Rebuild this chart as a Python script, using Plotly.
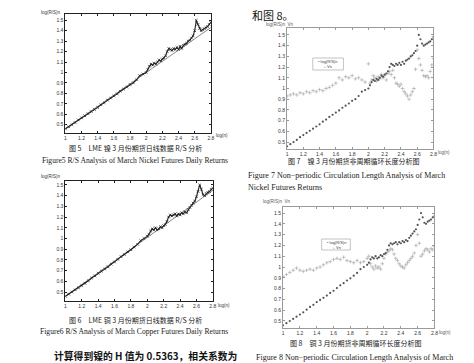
import plotly.graph_objects as go

W, H = 474, 363

# ---------------- data ----------------
log_n = [1.00, 1.04, 1.08, 1.12, 1.16, 1.20, 1.24, 1.28, 1.32, 1.36, 1.40, 1.44, 1.48,
         1.52, 1.56, 1.60, 1.64, 1.68, 1.72, 1.76, 1.80, 1.84, 1.88, 1.92, 1.96, 2.00,
         2.02, 2.04, 2.06, 2.08, 2.10, 2.12, 2.14, 2.16, 2.18, 2.20, 2.22, 2.24, 2.26,
         2.28, 2.30, 2.32, 2.34, 2.36, 2.38, 2.40, 2.42, 2.44, 2.46, 2.48, 2.50, 2.52,
         2.54, 2.56, 2.58, 2.60, 2.62, 2.64, 2.66, 2.68, 2.70, 2.72, 2.74, 2.76, 2.78, 2.80]

nickel_rs = [0.46, 0.48, 0.50, 0.52, 0.545, 0.565, 0.585, 0.605, 0.625, 0.645, 0.665, 0.69, 0.71,
             0.735, 0.755, 0.775, 0.795, 0.82, 0.84, 0.86, 0.885, 0.90, 0.93, 0.97, 0.985, 1.00,
             1.03, 1.06, 1.08, 1.07, 1.09, 1.08, 1.10, 1.12, 1.11, 1.13, 1.14, 1.16, 1.20,
             1.23, 1.22, 1.21, 1.23, 1.22, 1.24, 1.22, 1.25, 1.23, 1.26, 1.27, 1.28, 1.30,
             1.31, 1.33, 1.35, 1.40, 1.50, 1.46, 1.42, 1.40, 1.41, 1.42, 1.43, 1.44, 1.46, 1.48]

nickel_vn = [0.93, 0.94, 0.95, 0.94, 0.96, 0.95, 0.97, 0.96, 0.98, 0.97, 0.99, 0.98, 1.00,
             1.01, 1.03, 1.05, 1.10, 1.08, 1.11, 1.10, 1.12, 1.09, 1.10, 1.08, 1.06, 1.23,
             1.05, 1.08, 1.12, 1.10, 1.07, 1.11, 1.09, 1.13, 1.10, 1.12, 1.08, 1.14, 1.16,
             1.13, 1.17, 1.10, 1.05, 1.04, 1.02, 1.04, 1.00, 0.97, 0.95, 0.93, 0.90, 0.94,
             0.97, 1.00, 1.18, 1.36, 1.28, 1.22, 1.17, 1.12, 1.11, 1.12, 1.10, 1.16, 1.22, 1.28]

copper_rs = [0.46, 0.48, 0.50, 0.52, 0.54, 0.56, 0.58, 0.605, 0.63, 0.65, 0.675, 0.695, 0.715,
             0.735, 0.76, 0.78, 0.805, 0.83, 0.85, 0.875, 0.895, 0.92, 0.945, 0.98, 1.00, 1.02,
             1.04, 1.07, 1.09, 1.08, 1.10, 1.08, 1.09, 1.11, 1.10, 1.12, 1.13, 1.16, 1.20,
             1.22, 1.21, 1.22, 1.23, 1.21, 1.23, 1.22, 1.24, 1.23, 1.25, 1.24, 1.27, 1.29,
             1.31, 1.33, 1.35, 1.39, 1.44, 1.50, 1.46, 1.41, 1.40, 1.42, 1.43, 1.44, 1.46, 1.47]

copper_vn = [0.91, 0.93, 0.95, 0.97, 0.99, 0.97, 0.96, 0.97, 0.98, 0.97, 0.99, 1.00, 1.02,
             1.04, 1.05, 1.07, 1.08, 1.07, 1.09, 1.06, 1.05, 1.04, 1.06, 1.04, 1.05, 1.08,
             1.10, 1.03, 1.00, 0.98, 1.01, 0.99, 1.00, 0.98, 1.03, 1.08, 1.12, 1.14, 1.15,
             1.17, 1.16, 1.12, 1.08, 1.06, 1.03, 1.01, 1.00, 0.99, 1.02, 1.04, 1.06, 1.08,
             1.10, 1.13, 1.20, 1.30, 1.22, 1.10, 1.12, 1.15, 1.17, 1.16, 1.14, 1.17, 1.16, 1.19]

fit_x = [1.00, 2.80]
nickel_fit = [0.46, 1.43]
copper_fit = [0.46, 1.45]

x_ticks = [1, 1.2, 1.4, 1.6, 1.8, 2, 2.2, 2.4, 2.6, 2.8]
x_tick_text = ["1", "1.2", "1.4", "1.6", "1.8", "2", "2.2", "2.4", "2.6", "2.8"]
y_ticks = [0.5, 0.6, 0.7, 0.8, 0.9, 1.0, 1.1, 1.2, 1.3, 1.4, 1.5]
y_tick_text = ["0.5", "0.6", "0.7", "0.8", "0.9", "1", "1.1", "1.2", "1.3", "1.4", "1.5"]

# ---------------- layout helpers ----------------
def px_x(px):
    return px / W

def px_y(py):
    return 1 - py / H

def dom_x(a, b):
    return [px_x(a), px_x(b)]

def dom_y(top, bottom):
    return [px_y(bottom), px_y(top)]

TICKFONT = dict(family="Liberation Sans", size=5, color="#333333")

def xaxis(domain, anchor, rng, color):
    return dict(domain=domain, anchor=anchor, range=rng, tickvals=x_ticks, ticktext=x_tick_text,
                ticks="inside", ticklen=2, tickcolor=color, tickwidth=0.8, showline=True,
                linecolor=color, linewidth=1, mirror="ticks", showgrid=False, zeroline=False,
                tickfont=TICKFONT, fixedrange=True)

def yaxis(domain, anchor, rng, color):
    return dict(domain=domain, anchor=anchor, range=rng, tickvals=y_ticks, ticktext=y_tick_text,
                ticks="inside", ticklen=2, tickcolor=color, tickwidth=0.8, showline=True,
                linecolor=color, linewidth=1, mirror="ticks", showgrid=False, zeroline=False,
                tickfont=TICKFONT, fixedrange=True)

fig = go.Figure()

# Chart 1: nickel R/S
fig.add_trace(go.Scatter(x=fit_x, y=nickel_fit, mode="lines", line=dict(color="#555555", width=0.7),
                         xaxis="x", yaxis="y", showlegend=False))
fig.add_trace(go.Scatter(x=log_n, y=nickel_rs, mode="lines+markers",
                         line=dict(color="#222222", width=1.1),
                         marker=dict(symbol="x-thin", size=2.6, line=dict(color="#222222", width=0.7)),
                         xaxis="x", yaxis="y", showlegend=False))

# Chart 2: nickel R/S and Vn
fig.add_trace(go.Scatter(x=log_n, y=nickel_vn, mode="markers",
                         marker=dict(symbol="cross-thin", size=2.6, line=dict(color="#aaaaaa", width=0.7)),
                         xaxis="x2", yaxis="y2", showlegend=False))
fig.add_trace(go.Scatter(x=log_n, y=nickel_rs, mode="markers",
                         marker=dict(symbol="circle", size=2.2, color="#555555"),
                         xaxis="x2", yaxis="y2", showlegend=False))

# Chart 3: copper R/S
fig.add_trace(go.Scatter(x=fit_x, y=copper_fit, mode="lines", line=dict(color="#555555", width=0.7),
                         xaxis="x3", yaxis="y3", showlegend=False))
fig.add_trace(go.Scatter(x=log_n, y=copper_rs, mode="lines+markers",
                         line=dict(color="#222222", width=1.1),
                         marker=dict(symbol="x-thin", size=2.6, line=dict(color="#222222", width=0.7)),
                         xaxis="x3", yaxis="y3", showlegend=False))

# Chart 4: copper R/S and Vn
fig.add_trace(go.Scatter(x=log_n, y=copper_vn, mode="markers",
                         marker=dict(symbol="cross-thin", size=2.6, line=dict(color="#aaaaaa", width=0.7)),
                         xaxis="x4", yaxis="y4", showlegend=False))
fig.add_trace(go.Scatter(x=log_n, y=copper_rs, mode="markers",
                         marker=dict(symbol="circle", size=2.2, color="#555555"),
                         xaxis="x4", yaxis="y4", showlegend=False))

dark, light = "#222222", "#9a9a9a"

layout_axes = dict(
    xaxis=xaxis(dom_x(57, 204), "y", [1.0, 2.8], dark),
    yaxis=yaxis(dom_y(6, 125), "x", [0.42, 1.56], dark),
    xaxis2=xaxis(dom_x(281, 429), "y2", [1.0, 2.8], light),
    yaxis2=yaxis(dom_y(20, 141), "x2", [0.435, 1.565], light),
    xaxis3=xaxis(dom_x(57, 206), "y3", [1.0, 2.8], dark),
    yaxis3=yaxis(dom_y(173, 293), "x3", [0.416, 1.537], dark),
    xaxis4=xaxis(dom_x(277, 430), "y4", [1.0, 2.8], light),
    yaxis4=yaxis(dom_y(199, 320), "x4", [0.435, 1.556], light),
)

SERIF = "Liberation Serif"
CJK = "Noto Sans CJK SC"

def ann(text, px, py, size, family, xanchor="center", color="#222222"):
    return dict(text=text, x=px_x(px), y=px_y(py), xref="paper", yref="paper",
                xanchor=xanchor, yanchor="middle", showarrow=False,
                font=dict(family=family, size=size, color=color))

annotations = [
    # axis titles
    ann("log(R/S)n", 42, 4, 4.5, "Liberation Sans", color="#333333"),
    ann("log(n)", 207, 127, 4.5, "Liberation Sans", "left", "#333333"),
    ann("log(R/S)n  Vn", 274, 16, 4.5, "Liberation Sans", color="#555555"),
    ann("log(n)", 432, 145, 4.5, "Liberation Sans", "left", "#555555"),
    ann("log(R/S)n", 42, 169, 4.5, "Liberation Sans", color="#333333"),
    ann("log(n)", 209, 297, 4.5, "Liberation Sans", "left", "#333333"),
    ann("log(R/S)n  Vn", 271, 194, 4.5, "Liberation Sans", color="#555555"),
    ann("log(n)", 433, 324, 4.5, "Liberation Sans", "left", "#555555"),
    # legends
    ann("<span style='color:#555'>•</span> log(R/S)n<br><span style='color:#999'>+</span> Vn",
        310, 56, 4, "Liberation Sans", "left", "#444444"),
    ann("<span style='color:#555'>•</span> log(R/S)n<br><span style='color:#999'>+</span> Vn",
        319, 236.5, 4, "Liberation Sans", "left", "#444444"),
    # captions left
    ann("图 5　LME 镍 3 月份期货日线数据 R/S 分析", 128, 140, 7, CJK),
    ann("Figure5 R/S Analysis of March Nickel Futures Daily Returns", 127, 152.5, 7.6, SERIF),
    ann("图 6　LME 铜 3 月份期货日线数据 R/S 分析", 128, 312, 7, CJK),
    ann("Figure6 R/S Analysis of March Copper Futures Daily Returns", 126, 323.5, 7.6, SERIF),
    ann("<b>计算得到镍的 H 值为 0.5363，相关系数为</b>", 43, 348, 9.8, CJK, "left", "#111111"),
    # captions right
    ann("和图 8。", 244, 7, 11, CJK, "left", "#111111"),
    ann("图 7　镍 3 月份期货非周期循环长度分析图", 348, 153, 7, CJK),
    ann("Figure 7 Non−periodic Circulation Length Analysis of March", 240, 167.5, 8, SERIF, "left"),
    ann("Nickel Futures Returns", 240, 179.5, 8, SERIF, "left"),
    ann("图 8　铜 3 月份期货非周期循环长度分析图", 350, 335, 7, CJK),
    ann("Figure 8 Non−periodic Circulation Length Analysis of March", 248, 349, 8, SERIF, "left"),
]

shapes = [
    dict(type="rect", xref="paper", yref="paper", x0=px_x(307), x1=px_x(338),
         y0=px_y(62), y1=px_y(50), line=dict(color="#aaaaaa", width=0.7), fillcolor="white"),
    dict(type="rect", xref="paper", yref="paper", x0=px_x(316), x1=px_x(345),
         y0=px_y(242), y1=px_y(231), line=dict(color="#aaaaaa", width=0.7), fillcolor="white"),
]

fig.update_layout(
    width=W, height=H, autosize=False,
    margin=dict(l=0, r=0, t=0, b=0),
    paper_bgcolor="white", plot_bgcolor="white",
    annotations=annotations, shapes=shapes,
    **layout_axes,
)

fig.write_html("out.html")
